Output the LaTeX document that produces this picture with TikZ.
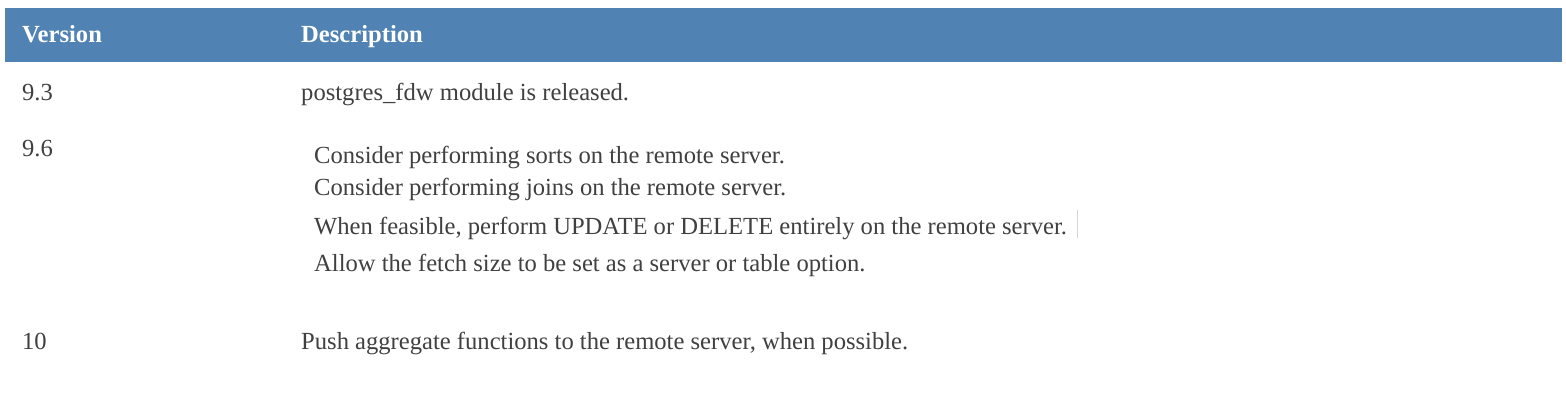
\documentclass[tikz,border=0pt]{standalone}
\usepackage{fontspec}
\setmainfont{Liberation Serif}
\definecolor{hdr}{HTML}{5083B4}
\definecolor{txt}{HTML}{404040}
\begin{document}
\begin{tikzpicture}[x=1pt,y=-1pt,
  cell/.style={anchor=base west,inner sep=0pt,font=\fontsize{24.6}{28}\selectfont,text=txt},
  head/.style={cell,text=white,font=\fontsize{24.6}{28}\selectfont\bfseries}]
\useasboundingbox (0,0) rectangle (1566,402);
\fill[hdr] (5,8) rectangle (1562,62);
\node[head] (hv) at (22,42) {Version};
\node[head] (hd) at (301,42) {Description};
\node[cell] (v1) at (22,100) {9.3};
\node[cell] (d1) at (301,100) {postgres\_fdw module is released.};
\node[cell] (v2) at (22,156) {9.6};
\node[cell] (d2a) at (314,163) {Consider performing sorts on the remote server.};
\node[cell] (d2b) at (314,195) {Consider performing joins on the remote server.};
\node[cell] (d2c) at (314,234) {When feasible, perform UPDATE or DELETE entirely on the remote server.};
\node[cell] (d2d) at (314,271) {Allow the fetch size to be set as a server or table option.};
\draw[draw=blue!10!gray!30] (1077,210) -- (1077,238);
\node[cell] (v3) at (22,349) {10};
\node[cell] (d3) at (301,349) {Push aggregate functions to the remote server, when possible.};
\end{tikzpicture}
\end{document}
